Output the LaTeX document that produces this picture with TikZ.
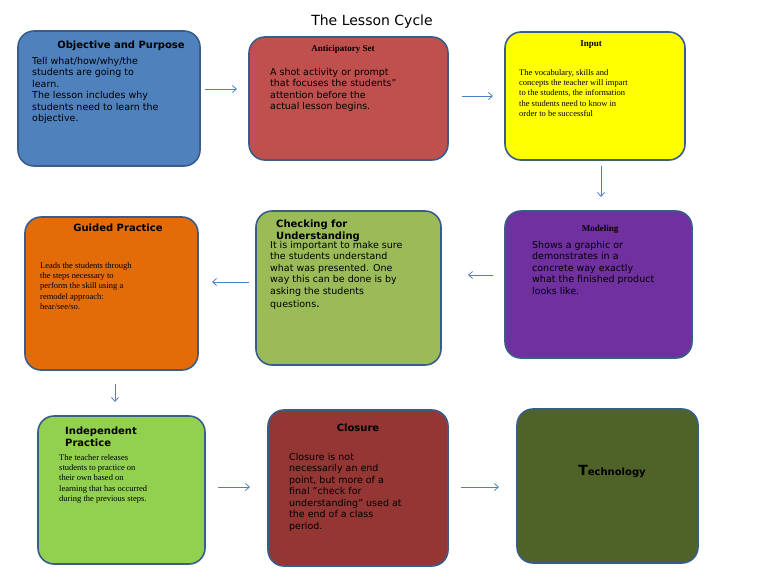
\documentclass[tikz,border=0pt]{standalone}
\usepackage{fontspec}
\setmainfont{DejaVu Sans}
\newfontfamily\serif{Liberation Serif}
\usetikzlibrary{arrows.meta}
\definecolor{cblue}{HTML}{4F81BD}
\definecolor{cred}{HTML}{C0504D}
\definecolor{cyel}{HTML}{FFFF00}
\definecolor{cpur}{HTML}{7030A0}
\definecolor{cgrn}{HTML}{9BBB59}
\definecolor{corg}{HTML}{E36C09}
\definecolor{clgr}{HTML}{92D050}
\definecolor{cdred}{HTML}{943634}
\definecolor{coli}{HTML}{4F6228}
\definecolor{edge}{HTML}{385D8A}
\tikzset{
 card/.style={draw=edge,line width=1.6pt,rounded corners=16pt},
 ttl/.style={font=\fontsize{10}{12}\selectfont\bfseries,inner sep=0},
 sttl/.style={font=\serif\fontsize{9}{10}\selectfont\bfseries,inner sep=0},
 body/.style={font=\fontsize{9.5}{11.5}\selectfont,align=left,anchor=north west,inner sep=0},
 sbody/.style={font=\serif\fontsize{8.5}{10.3}\selectfont,align=left,anchor=north west,inner sep=0},
 arr/.style={-{Straight Barb[length=4pt,width=7pt]},draw=cblue,line width=0.8pt}
}
\begin{document}
\begin{tikzpicture}[x=1pt,y=-1pt]
\useasboundingbox (0,0) rectangle (768,576);
\node[font=\fontsize{14}{16}\selectfont] (title) at (372,22) {The Lesson Cycle};
% boxes
\draw[card,fill=cblue] (18,31) rectangle (200,166);
\node[ttl] (t1) at (121,46) {Objective and Purpose};
\node[body] (b1) at (32,57) {Tell what/how/why/the\\students are going to\\learn.\\The lesson includes why\\students need to learn the\\objective.};
\draw[card,fill=cred] (249,37) rectangle (448,160);
\node[sttl] (t2) at (343,49) {Anticipatory Set};
\node[body] (b2) at (270,68) {A shot activity or prompt\\that focuses the students"\\attention before the\\actual lesson begins.};
\draw[card,fill=cyel] (505,32) rectangle (685,160);
\node[sttl] (t3) at (591,45) {Input};
\node[sbody] (b3) at (519,69) {The vocabulary, skills and\\concepts the teacher will impart\\to the students, the information\\the students need to know in\\order to be successful};
\draw[card,fill=cpur] (505,211) rectangle (692,358);
\node[sttl] (t4) at (600,229) {Modeling};
\node[body] (b4) at (532,241) {Shows a graphic or\\demonstrates in a\\concrete way exactly\\what the finished product\\looks like.};
\draw[card,fill=cgrn] (256,211) rectangle (441,365);
\node[ttl,align=left,anchor=north west,font=\fontsize{10}{12}\selectfont\bfseries] (t5) at (276,220) {Checking for\\Understanding};
\node[body] (b5) at (270,241) {It is important to make sure\\the students understand\\what was presented. One\\way this can be done is by\\asking the students\\[2pt]questions{\large.}};
\draw[card,fill=corg] (25,217) rectangle (198,370);
\node[ttl] (t6) at (118,228) {Guided Practice};
\node[sbody] (b6) at (40,262) {Leads the students through\\the steps necessary to\\perform the skill using a\\remodel approach:\\hear/see/so.};
\draw[card,fill=clgr] (38,416) rectangle (205,564);
\node[ttl,align=left,anchor=north west] (t7) at (65,427) {Independent\\Practice};
\node[sbody] (b7) at (59,454) {The teacher releases\\students to practice on\\their own based on\\learning that has occurred\\during the previous steps.};
\draw[card,fill=cdred] (268,410) rectangle (448,566);
\node[ttl] (t8) at (358,428) {Closure};
\node[body] (b8) at (289,453) {Closure is not\\necessarily an end\\point, but more of a\\final "check for\\understanding" used at\\the end of a class\\period.};
\draw[card,fill=coli] (517,409) rectangle (698,563);
\node[font=\fontsize{10}{12}\selectfont\bfseries] (t9) at (612,471) {{\fontsize{14}{16}\selectfont T}echnology};
% arrows
\coordinate (a1) at (205,89); \coordinate (a2) at (237,89);
\coordinate (a3) at (462,96); \coordinate (a4) at (493,96);
\coordinate (a5) at (601,166); \coordinate (a6) at (601,197);
\coordinate (a7) at (493,275); \coordinate (a8) at (468,275);
\coordinate (a9) at (249,282); \coordinate (a10) at (212,282);
\coordinate (a11) at (115,384); \coordinate (a12) at (115,402);
\coordinate (a13) at (218,487); \coordinate (a14) at (250,487);
\coordinate (a15) at (461,487); \coordinate (a16) at (499,487);
\draw[arr] (a1)--(a2); \draw[arr] (a3)--(a4); \draw[arr] (a5)--(a6);
\draw[arr] (a7)--(a8); \draw[arr] (a9)--(a10); \draw[arr] (a11)--(a12);
\draw[arr] (a13)--(a14); \draw[arr] (a15)--(a16);
\end{tikzpicture}
\end{document}
